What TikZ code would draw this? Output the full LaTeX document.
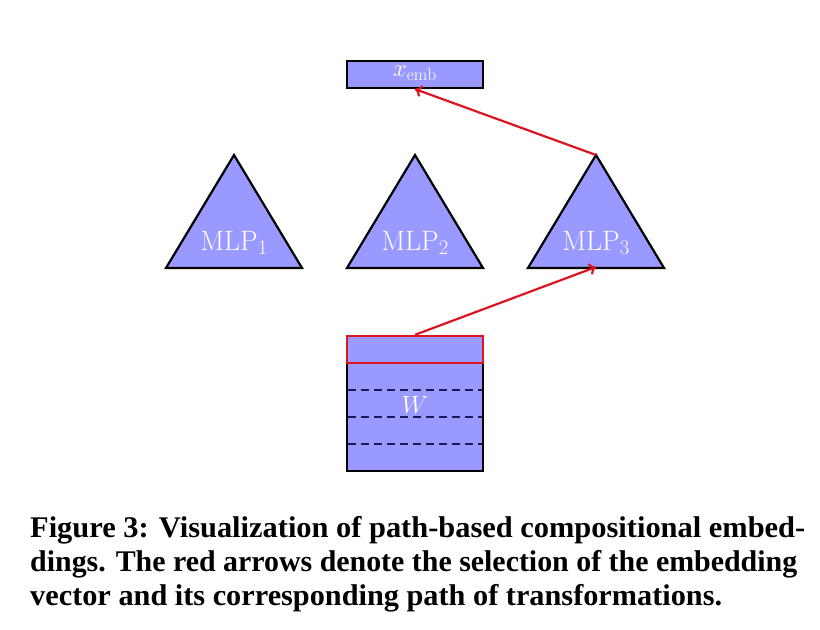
\documentclass[tikz,border=0pt]{standalone}
\usepackage{fontspec}
\newfontfamily\capfont{Liberation Serif}
\usetikzlibrary{arrows.meta}
\definecolor{boxfill}{RGB}{153,153,255}
\definecolor{selred}{RGB}{220,20,30}
\definecolor{dashcol}{RGB}{25,25,90}
\tikzset{
  blk/.style={draw=black, line width=2.2bp, fill=boxfill},
  sel/.style={draw=selred, line width=2.4bp},
  selarrow/.style={draw=selred, line width=2.2bp, -{To[length=7bp,width=12bp]}},
  lbl/.style={text=white, inner sep=0pt},
  rowline/.style={draw=dashcol, line width=1.4bp, dash pattern=on 8bp off 5bp},
  capline/.style={anchor=base west, inner sep=0pt, font=\capfont\bfseries\fontsize{30bp}{34bp}\selectfont}
}
\begin{document}
\begin{tikzpicture}[x=1bp,y=-1bp]
\useasboundingbox (0,0) rectangle (820,630);
% embedding output
\node[blk, minimum width=136bp, minimum height=27bp, inner sep=0pt] (xemb) at (415,74.5) {};
\node[lbl, font=\fontsize{25bp}{27bp}\selectfont] (xembl) at (415,73) {$x_{\mathrm{emb}}$};
% triangles
\foreach \i/\cx in {1/234,2/415,3/596}{
  \coordinate (apex\i) at (\cx,155);
  \coordinate (base\i) at (\cx,267);
  \draw[blk, line join=miter] (\cx-68,268) -- (apex\i) -- (\cx+68,268) -- cycle;
  \node[lbl, font=\fontsize{28bp}{30bp}\selectfont] (mlp\i) at (\cx,243) {MLP$_{\i}$};
}
% W matrix
\node[blk, minimum width=136bp, minimum height=135bp, inner sep=0pt] (w) at (415,403.5) {};
\foreach \yy in {390,417,444}{
  \draw[rowline] (348,\yy) -- (482,\yy);
}
\node[lbl, font=\fontsize{32bp}{34bp}\selectfont] (wl) at (415,405) {$W$};
\node[sel, minimum width=136bp, minimum height=27bp, inner sep=0pt] (row) at (415,349.5) {};
% selection arrows
\draw[selarrow] (row.north) -- (base3);
\draw[selarrow] (apex3) -- (xemb.south);
% caption
\node[capline] (c1) at (30,537) {\resizebox{775bp}{\height}{Figure 3: Visualization of path-based compositional embed-}};
\node[capline] (c2) at (30,571) {\resizebox{767bp}{\height}{dings. The red arrows denote the selection of the embedding}};
\node[capline] (c3) at (30,605) {\resizebox{692bp}{\height}{vector and its corresponding path of transformations.}};
\end{tikzpicture}
\end{document}
